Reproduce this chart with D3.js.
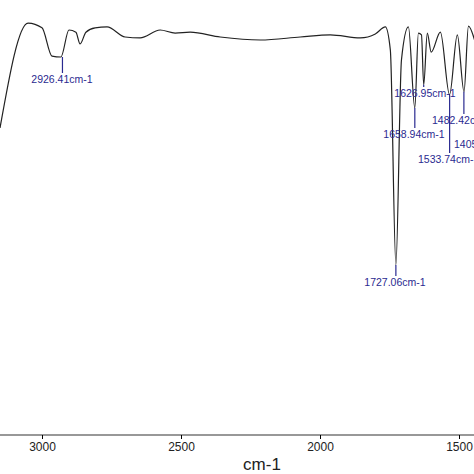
<!DOCTYPE html><html><head><meta charset="utf-8"><script src="https://cdn.jsdelivr.net/npm/d3@7"></script>
<style>body{margin:0;background:#fff}</style></head><body><svg id="c" width="474" height="474"></svg>
<script>
const wavenumbers=[3151,3050,3000,2964,2932,2903,2878,2863,2842,2809,2766,2701,2647,2575,2521,2467,2359,2215,2071,1963,1855,1801,1765,1747,1727,1707,1682,1659,1646,1635,1627,1614,1600,1567,1534,1506,1482,1466,1444];
const transmittance=[70.6,94.7,93.6,87.1,86.9,93.1,92.6,89.9,92.6,93.6,93.8,91.5,91.3,93.1,92.4,92.6,91.5,90.8,91.5,92.0,91.3,92.2,93.8,88.5,39.1,86.2,93.8,75.2,92.4,92.0,80.5,92.4,88.0,92.6,78.2,92.0,78.9,94.0,90.8];
const peakWn=[2926.41,1727.06,1658.94,1626.95,1533.74,1482.42,1405.12];
const peakT=[86.9,39.1,75.2,80.5,78.2,78.9,85];
const peakLabels=["2926.41cm-1","1727.06cm-1","1658.94cm-1","1626.95cm-1","1533.74cm-1","1482.42cm-1","1405.12cm-1"];
const labelY=[83,286,138,97,163,124,148];
const labelX=[62,395,414,425,418,432,454];
const anchors=["middle","middle","middle","middle","start","start","start"];
const tickVals=[3000,2500,2000,1500];

const svg=d3.select("#c");
const x=d3.scaleLinear().domain([3000,1500]).range([42,459]);
const y=d3.scaleLinear().domain([0,100]).range([435,0]);
const data=wavenumbers.map((w,i)=>[w,transmittance[i]]);
svg.append("path").datum(data).attr("fill","none").attr("stroke","#222").attr("stroke-width",1.2)
 .attr("d",d3.line().x(d=>x(d[0])).y(d=>y(d[1])).curve(d3.curveMonotoneX));
const c="#2a2a90";
peakWn.forEach((w,i)=>{
  svg.append("line").attr("x1",x(w)).attr("x2",x(w)).attr("y1",y(peakT[i])).attr("y2",labelY[i]-10).attr("stroke",c).attr("stroke-width",1.2);
  svg.append("text").attr("x",labelX[i]).attr("y",labelY[i]).attr("text-anchor",anchors[i])
   .attr("font-family","Arial, Liberation Sans").attr("font-size",10.5).attr("fill",c).text(peakLabels[i]);
});
const ax=svg.append("g").attr("transform","translate(0,435)").call(d3.axisBottom(x).tickValues(tickVals).tickFormat(d3.format("d")).tickSize(4).tickSizeOuter(0));
ax.select(".domain").attr("d","M0,0H474").attr("stroke","#333").attr("stroke-width",1.2);
ax.selectAll("text").attr("font-family","Arial, Liberation Sans").attr("font-size",12).attr("fill","#222");
svg.append("text").attr("x",262).attr("y",470).attr("text-anchor","middle").attr("font-family","Arial, Liberation Sans").attr("font-size",17).attr("fill","#222").text("cm-1");
</script></body></html>
